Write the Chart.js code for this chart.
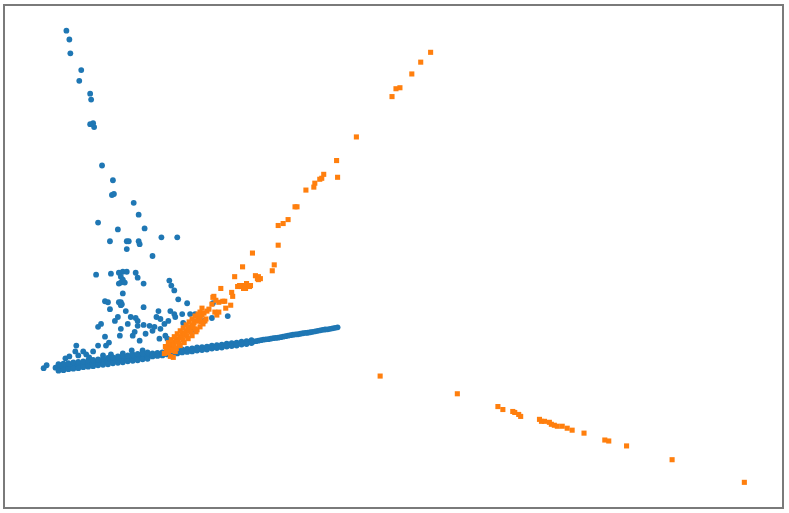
<!DOCTYPE html>
<html>
<head>
<meta charset="utf-8">
<script src="https://cdn.jsdelivr.net/npm/chart.js@4.4.0/dist/chart.umd.min.js"></script>
<style>
html, body { margin: 0; padding: 0; background: #fff; }
#frame { position: absolute; left: 3px; top: 4px; width: 777px; height: 501px; border: 2px solid #7a7a7a; }
canvas { display: block; }
</style>
</head>
<body>
<div id="frame"><canvas id="chart" width="777" height="501"></canvas></div>
<script>

// blue: scattered points above the band
const blueCloud = [
  [63,27],[66,36],[67,50],[78,67],[76,78],[87,91],[88,97],[87,122],[90,121],[91,125],
  [99,164],[110,179],[109,194],[111,193],[131,202],[136,214],[95,222],[115,229],[142,228],
  [107,241],[124,241],[126,241],[136,241],[137,244],[124,249],[159,237],[175,237],[150,256],
  [93,275],[108,274],[116,273],[120,272],[124,272],[133,273],[135,278],[118,277],[120,280],
  [118,283],[116,284],[122,283],[141,284],[167,281],[169,286],[172,291],[120,294],[176,300],
  [102,302],[105,303],[116,303],[118,303],[118,306],[119,305],[107,310],[123,312],[141,308],
  [185,304],[211,304],[168,312],[172,315],[173,318],[156,312],[154,318],[158,320],[115,318],
  [128,318],[133,319],[135,322],[166,322],[180,315],[181,324],[188,315],[193,315],[198,317],
  [202,322],[210,319],[226,317],[191,331],
  [95,328],[98,325],[102,338],[103,347],[106,344],[95,347],[73,347],[72,353],[75,357],
  [80,353],[83,356],[90,353],[112,322],[118,330],[117,337],[125,325],[130,337],[132,333],
  [135,327],[137,342],[129,352],[141,326],[143,335],[147,327],[150,332],[152,328],[157,340],
  [158,330],[162,325],[165,340],[163,337],[40,370],[43,367],[62,360],[66,358],[100,357],
  [108,356],[140,352],[86,359],[120,355]
];

// blue: the dense band, centre line
const bandX = [52,57,62,67,72,77,82,87,92,97,102,107,112,117,122,127,132,137,142,147,152,157,162,167,172,177,182,187,192,197,202,207,212,217,222,227,232,237,242,247,252,257,262,267,272,277,282,287,292,297,302,307,312,317,322,327,332,337];
const bandY = [369.5,369,368,367.5,367,366,365.5,365,364,363.5,363,362,361.5,361,360,359.5,359,358,357.5,357,356.5,356,355,354.5,354,353,352.5,352,351,350.5,350,349,348.5,348,347,346.5,346,345,344.5,343.5,343,342,341,340.5,339.5,339,338,337,336,335.5,334.5,334,333,332,331,330.5,329.5,328.5];

// blue: band, in-between points on the narrow part
const bandMidX = [154.5,159.5,164.5,169.5,174.5,179.5,184.5,189.5,194.5,199.5,204.5,209.5,214.5,219.5,224.5,229.5,234.5,239.5,244.5,249.5,254.5,259.5,264.5,269.5,274.5,279.5,284.5,289.5,294.5,299.5,304.5,309.5,314.5,319.5,324.5,329.5,334.5];
const bandMidY = [356.2,355.5,354.7,354.2,353.5,352.7,352.2,351.5,350.7,350.2,349.5,348.7,348.2,347.5,346.7,346.2,345.5,344.7,344,343.2,342.5,341.5,340.7,340,339.2,338.5,337.5,336.5,335.7,335,334.2,333.5,332.5,331.5,330.7,330,329];

// blue: band edges
const edgeX = [55,60,65,70,75,80,85,90,95,100,105,110,115,120,125,130,135,140,145,150,155,160,165,170,175,180,185,190,195,200,205,210,215,220,225,230,235,240,245,250];
const edgeTopY = [366,365.5,365,364,363.5,363,362,361.5,361,360,359.5,359,358,357.5,357,356,355.5,355,354,355,354.5,354,353,352.5,352,351,350.5,350,349,348.5,348,347,346.5,346,345,344.5,344,343,342.5,341.5];
const edgeLowY = [372.5,372,371,370.5,370,369,368.5,368,367,366.5,366,365,364.5,364,363,362.5,362,361,360.5,358,357.5,357,356,355.5,355,354,353.5,353,352,351.5,351,350,349.5,349,348,347.5,347,346,345.5,344.5];

// orange: rising branch
const orangeRise = [
  [431,49],[421,59],[412,71],[396,86],[400,85],[392,94],[356,135],[336,159],[337,176],
  [323,173],[321,177],[319,178],[314,182],[313,186],[305,189],[294,206],[296,206],[287,219],
  [282,223],[277,225],[277,245],[251,253],[273,265],[271,271],[241,267],[233,277],[254,276],
  [257,277],[259,279],[256,279],[219,289],[236,287],[240,287],[243,286],[249,286],[242,289],
  [244,289],[230,293],[231,297],[211,298],[214,301],[217,303],[223,302],[229,306],[224,309],
  [200,309],[213,313],[215,316],[210,305],[212,297],[221,302],[217,313],[203,322],[195,331],
  [198,313],[238,286],[245,284],[248,287],[257,280],[168,358],[171,359],
  [165,349],[167,347],[169,348],[170,345],[172,344],[174,342],[176,340],[175,343],[178,338],
  [180,336],[179,339],[182,334],[184,332],[183,336],[186,330],[188,328],[187,332],[190,326],
  [192,324],[191,328],[194,322],[196,320],[198,318],[197,322],[200,316],[202,314],[168,351],
  [172,349],[177,345],[181,341],[185,337],[189,333],[193,330],[199,323],[164,352],[205,312],
  [207,310],
  [163,348],[166,344],[169,341],[172,338],[175,335],[178,332],[181,329],[184,326],[187,323],
  [190,320],[193,317],[196,315],[170,352],[174,350],[178,347],[182,344],[186,340],[190,337],
  [194,333],[198,328],[201,325],[204,320],[162,355],[166,354],[173,353]
];

// orange: falling branch on the right
const orangeFall = [
  [380,378],[458,396],[499,409],[504,412],[514,414],[516,415],[520,417],[522,419],[541,422],
  [543,424],[546,424],[551,425],[553,427],[556,428],[559,429],[564,429],[569,431],[574,433],
  [586,436],[607,443],[611,444],[629,449],[675,463],[748,486]
];

const toPts = (arr) => arr.map(([x, y]) => ({ x: x, y: y }));
const pair = (xs, ys) => xs.map((x, i) => ({ x: x, y: ys[i] }));
const bandPts = pair(bandX, bandY)
  .concat(pair(bandMidX, bandMidY))
  .concat(pair(edgeX, edgeTopY))
  .concat(pair(edgeX, edgeLowY));

const chart = new Chart(document.getElementById('chart'), {
  type: 'scatter',
  data: {
    datasets: [
      {
        label: 'orange',
        data: toPts(orangeRise).concat(toPts(orangeFall)),
        pointStyle: 'rect',
        pointRadius: 3.6,
        backgroundColor: '#ff7f0e',
        borderWidth: 0,
        order: 0,
      },
      {
        label: 'blue',
        data: toPts(blueCloud).concat(bandPts),
        pointRadius: 2.9,
        backgroundColor: '#1f77b4',
        borderWidth: 0,
        order: 1,
      },
    ],
  },
  options: {
    responsive: false,
    animation: false,
    layout: { padding: 0 },
    plugins: { legend: { display: false }, tooltip: { enabled: false } },
    scales: {
      x: { type: 'linear', min: 5, max: 782, display: false },
      y: { type: 'linear', min: 6, max: 507, reverse: true, display: false },
    },
  },
});
</script>
</body>
</html>
